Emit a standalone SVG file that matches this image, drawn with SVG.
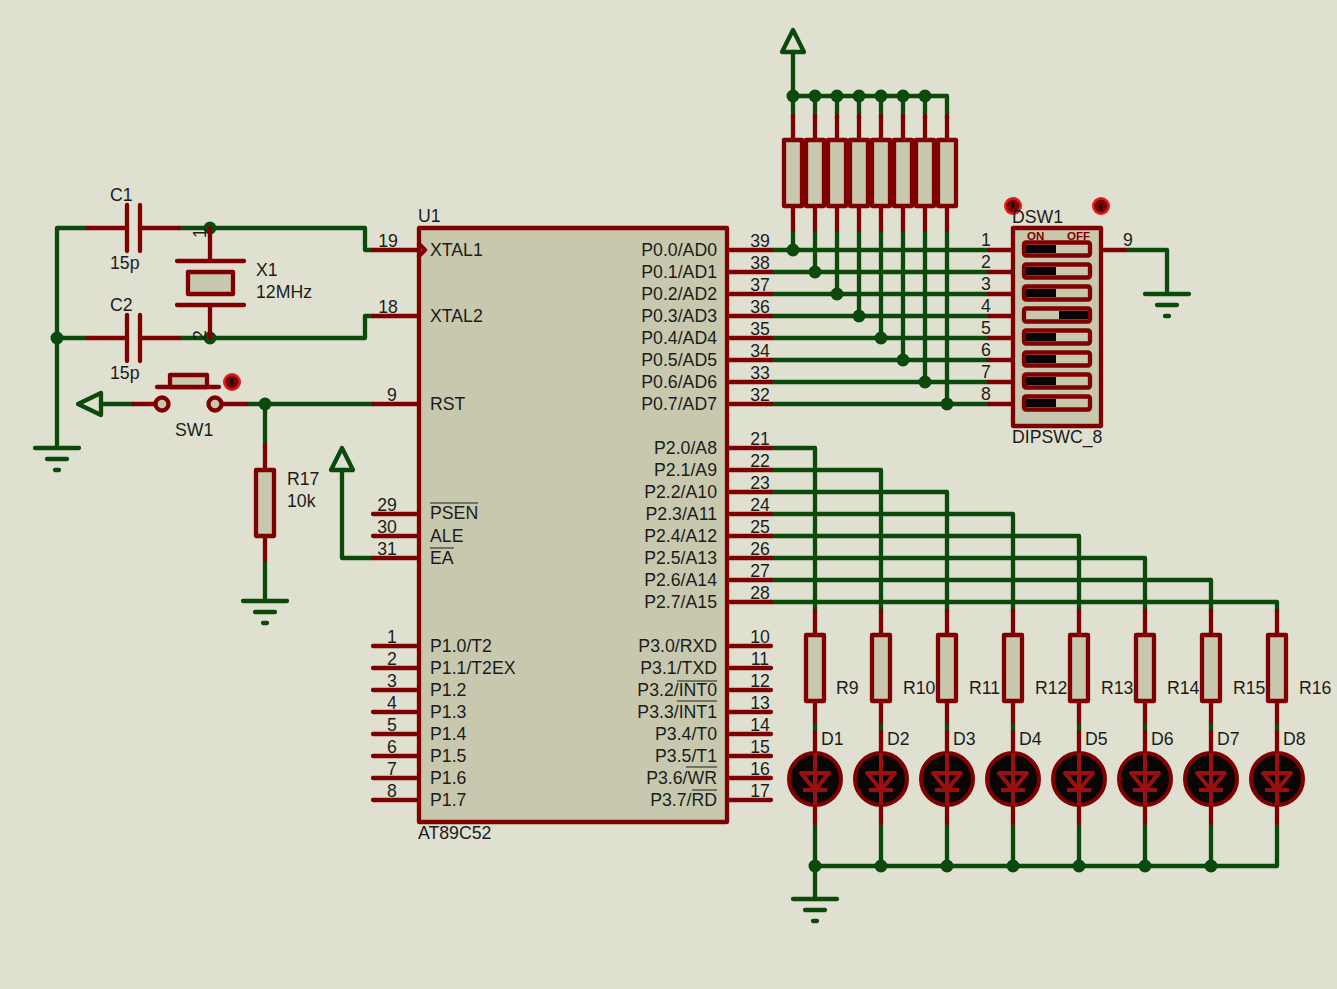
<svg xmlns="http://www.w3.org/2000/svg" xmlns:xlink="http://www.w3.org/1999/xlink" width="1337" height="989" viewBox="0 0 1337 989">
<style>
text{font-family:"Liberation Sans",Arial,sans-serif;font-size:17.7px;fill:#1c1c1c}
.e{text-anchor:end}.m{text-anchor:middle}
.w{stroke:#0b4a0b;stroke-width:4.300;fill:none;stroke-linejoin:round;stroke-linecap:round}
.r{stroke:#7f0000;stroke-width:4.300;fill:none;stroke-linecap:round;stroke-linejoin:round}
.b{stroke:#7f0000;stroke-width:4.300;fill:#c8c8ae;stroke-linejoin:round}
.j{fill:#0b4a0b}
.o{stroke:#1c1c1c;stroke-width:1.2;fill:none}
.t{stroke:#0b4a0b;stroke-width:4.300;fill:none;stroke-linejoin:round}
.g{stroke:#0b4a0b;stroke-width:4.300;stroke-linecap:round;fill:none}
.sw{stroke:#7f0000;stroke-width:4.300;fill:#c8c8ae}
.k{fill:#0a0505}
.lab{font-size:11.5px;font-weight:bold;fill:#7f0000}
</style>
<defs>
<g id="res"><path class="r" d="M0 -33V-57M0 33V57"/><rect class="b" x="-9" y="-33" width="18" height="66"/></g>
<g id="led">
<path class="w" d="M0 -54V-47"/>
<path class="r" d="M0 -47V-28M0 28V44"/>
<circle r="26" fill="#0a0505" stroke="#7f0000" stroke-width="4"/>
<path d="M0 -26V26M-12 11H12M-14 -6H14L0 11Z" fill="none" stroke="#9a1010" stroke-width="4" stroke-linejoin="round"/>
</g>
<g id="gnd"><path class="g" d="M-22 0H22M-10 11H10M-2 22H2"/></g>
<g id="swon"><rect class="sw" x="-33" y="-6.500" width="66" height="13" rx="2"/><rect class="k" x="-31" y="-4" width="30" height="8"/></g>
<g id="swoff"><rect class="sw" x="-33" y="-6.500" width="66" height="13" rx="2"/><rect class="k" x="2" y="-4" width="29" height="8"/></g>
</defs>
<rect width="1337" height="989" fill="#dfe0d0"/>

<g id="connectors">
<path class="w" d="M57 447V228H88M179 228H365V250H373M57 338H88M179 338H365V316H373"/>
<path class="w" d="M101 404H133M246 404H373M265 404V447M265 560V601"/>
<path class="w" d="M342 470V558H373"/>
<path class="w" d="M793 52V118M793 96H947V118M815 96V118M837 96V118M859 96V118M881 96V118M903 96V118M925 96V118"/>
<path class="w" d="M793 230V250M815 230V272M837 230V294M859 230V316M881 230V338M903 230V360M925 230V382M947 230V404"/>
<path class="w" d="M771 250H989M771 272H989M771 294H989M771 316H989M771 338H989M771 360H989M771 382H989M771 404H989"/>
<path class="w" d="M1125 250H1167V294"/>
<path class="w" d="M771 448H815V612M771 470H881V612M771 492H947V612M771 514H1013V612M771 536H1079V612M771 558H1145V612M771 580H1211V612M771 602H1277V612"/>
<path class="w" d="M815 823V899M881 823V866M947 823V866M1013 823V866M1079 823V866M1145 823V866M1211 823V866M1277 823V866H815"/>
<g class="j">
<circle cx="210" cy="228" r="6.500"/><circle cx="210" cy="338" r="6.500"/><circle cx="57" cy="338" r="6.500"/><circle cx="265" cy="404" r="6.500"/>
<circle cx="793" cy="96" r="6.500"/><circle cx="815" cy="96" r="6.500"/><circle cx="837" cy="96" r="6.500"/><circle cx="859" cy="96" r="6.500"/><circle cx="881" cy="96" r="6.500"/><circle cx="903" cy="96" r="6.500"/><circle cx="925" cy="96" r="6.500"/>
<circle cx="793" cy="250" r="6.500"/><circle cx="815" cy="272" r="6.500"/><circle cx="837" cy="294" r="6.500"/><circle cx="859" cy="316" r="6.500"/><circle cx="881" cy="338" r="6.500"/><circle cx="903" cy="360" r="6.500"/><circle cx="925" cy="382" r="6.500"/><circle cx="947" cy="404" r="6.500"/>
<circle cx="815" cy="866" r="6.500"/><circle cx="881" cy="866" r="6.500"/><circle cx="947" cy="866" r="6.500"/><circle cx="1013" cy="866" r="6.500"/><circle cx="1079" cy="866" r="6.500"/><circle cx="1145" cy="866" r="6.500"/><circle cx="1211" cy="866" r="6.500"/>
</g>
</g>

<g id="U1">
<rect class="b" x="419" y="228" width="308" height="594"/>
<path class="r" d="M373 250H419M419 244L425 250L419 256M373 316H419M373 404H419M373 514H419M373 536H419M373 558H419"/>
<path class="r" d="M373 646H419M373 668H419M373 690H419M373 712H419M373 734H419M373 756H419M373 778H419M373 800H419"/>
<path class="r" d="M727 250H771M727 272H771M727 294H771M727 316H771M727 338H771M727 360H771M727 382H771M727 404H771"/>
<path class="r" d="M727 448H771M727 470H771M727 492H771M727 514H771M727 536H771M727 558H771M727 580H771M727 602H771"/>
<path class="r" d="M727 646H771M727 668H771M727 690H771M727 712H771M727 734H771M727 756H771M727 778H771M727 800H771"/>
<text x="418" y="222">U1</text><text x="418" y="839">AT89C52</text>
<text x="430" y="256">XTAL1</text><text x="430" y="322">XTAL2</text><text x="430" y="410">RST</text>
<text x="430" y="519">PSEN</text><text x="430" y="542">ALE</text><text x="430" y="564">EA</text>
<text x="430" y="652">P1.0/T2</text><text x="430" y="674">P1.1/T2EX</text><text x="430" y="696">P1.2</text><text x="430" y="718">P1.3</text><text x="430" y="740">P1.4</text><text x="430" y="762">P1.5</text><text x="430" y="784">P1.6</text><text x="430" y="806">P1.7</text>
<text class="e" x="717" y="256">P0.0/AD0</text><text class="e" x="717" y="278">P0.1/AD1</text><text class="e" x="717" y="300">P0.2/AD2</text><text class="e" x="717" y="322">P0.3/AD3</text><text class="e" x="717" y="344">P0.4/AD4</text><text class="e" x="717" y="366">P0.5/AD5</text><text class="e" x="717" y="388">P0.6/AD6</text><text class="e" x="717" y="410">P0.7/AD7</text>
<text class="e" x="717" y="454">P2.0/A8</text><text class="e" x="717" y="476">P2.1/A9</text><text class="e" x="717" y="498">P2.2/A10</text><text class="e" x="717" y="520">P2.3/A11</text><text class="e" x="717" y="542">P2.4/A12</text><text class="e" x="717" y="564">P2.5/A13</text><text class="e" x="717" y="586">P2.6/A14</text><text class="e" x="717" y="608">P2.7/A15</text>
<text class="e" x="717" y="652">P3.0/RXD</text><text class="e" x="717" y="674">P3.1/TXD</text><text class="e" x="717" y="696">P3.2/INT0</text><text class="e" x="717" y="718">P3.3/INT1</text><text class="e" x="717" y="740">P3.4/T0</text><text class="e" x="717" y="762">P3.5/T1</text><text class="e" x="717" y="784">P3.6/WR</text><text class="e" x="717" y="806">P3.7/RD</text>
<path class="o" d="M430 503H478M430 548H454M677 681H717M677 701H717M686 767H717M692 790H717"/>
<g>
<text class="m" x="388" y="247">19</text><text class="m" x="388" y="313">18</text><text class="m" x="392" y="401">9</text><text class="m" x="387" y="511">29</text><text class="m" x="387" y="533">30</text><text class="m" x="387" y="555">31</text>
<text class="m" x="392" y="643">1</text><text class="m" x="392" y="665">2</text><text class="m" x="392" y="687">3</text><text class="m" x="392" y="709">4</text><text class="m" x="392" y="731">5</text><text class="m" x="392" y="753">6</text><text class="m" x="392" y="775">7</text><text class="m" x="392" y="797">8</text>
<text class="m" x="760" y="247">39</text><text class="m" x="760" y="269">38</text><text class="m" x="760" y="291">37</text><text class="m" x="760" y="313">36</text><text class="m" x="760" y="335">35</text><text class="m" x="760" y="357">34</text><text class="m" x="760" y="379">33</text><text class="m" x="760" y="401">32</text>
<text class="m" x="760" y="445">21</text><text class="m" x="760" y="467">22</text><text class="m" x="760" y="489">23</text><text class="m" x="760" y="511">24</text><text class="m" x="760" y="533">25</text><text class="m" x="760" y="555">26</text><text class="m" x="760" y="577">27</text><text class="m" x="760" y="599">28</text>
<text class="m" x="760" y="643">10</text><text class="m" x="760" y="665">11</text><text class="m" x="760" y="687">12</text><text class="m" x="760" y="709">13</text><text class="m" x="760" y="731">14</text><text class="m" x="760" y="753">15</text><text class="m" x="760" y="775">16</text><text class="m" x="760" y="797">17</text>
</g>
</g>

<g id="C1"><path class="r" d="M88 228H126M141 228H179"/><path class="r" d="M127 205V251M140 205V251"/><text x="110" y="201">C1</text><text x="110" y="269">15p</text></g>
<g id="C2"><path class="r" d="M88 338H126M141 338H179"/><path class="r" d="M127 315V361M140 315V361"/><text x="110" y="311">C2</text><text x="110" y="379">15p</text></g>
<g id="X1">
<path class="r" d="M210 228V261M177 261H244M177 305H244M210 305V338"/>
<rect class="b" x="188" y="272" width="45" height="22"/>
<text transform="translate(206 238) rotate(-90)">1</text>
<text transform="translate(206 340) rotate(-90)">2</text>
<text x="256" y="276">X1</text><text x="256" y="298">12MHz</text>
</g>
<g id="SW1">
<path class="r" d="M133 404H155M221 404H246M157 387H219"/>
<rect class="b" x="170" y="375" width="37" height="12"/>
<circle class="b" cx="162" cy="404" r="6.500"/><circle class="b" cx="215" cy="404" r="6.500"/>
<circle cx="232" cy="382" r="9" fill="#e21a1a"/><circle cx="232" cy="382" r="6.500" fill="#7f0000"/><path d="M232 378V386" stroke="#111" stroke-width="3"/>
<text x="175" y="436">SW1</text>
</g>
<g id="R17"><use xlink:href="#res" href="#res" x="265" y="503"/><text x="287" y="485">R17</text><text x="287" y="507">10k</text></g>
<g id="GND1"><use xlink:href="#gnd" href="#gnd" x="57" y="448"/></g>
<g id="GND2"><use xlink:href="#gnd" href="#gnd" x="265" y="601"/></g>
<g id="GND3"><use xlink:href="#gnd" href="#gnd" x="1167" y="294"/></g>
<g id="GND4"><use xlink:href="#gnd" href="#gnd" x="815" y="899"/></g>
<g id="PWR1"><path class="t" d="M78 404L101 393V415Z"/></g>
<g id="PWR2"><path class="t" d="M342 448L353 470H331Z"/></g>
<g id="PWR3"><path class="t" d="M793 30L804 52H782Z"/></g>

<g id="RP1">
<use xlink:href="#res" href="#res" x="793" y="173"/><use xlink:href="#res" href="#res" x="815" y="173"/><use xlink:href="#res" href="#res" x="837" y="173"/><use xlink:href="#res" href="#res" x="859" y="173"/><use xlink:href="#res" href="#res" x="881" y="173"/><use xlink:href="#res" href="#res" x="903" y="173"/><use xlink:href="#res" href="#res" x="925" y="173"/><use xlink:href="#res" href="#res" x="947" y="173"/>
</g>

<g id="DSW1">
<path class="r" d="M989 250H1013M989 272H1013M989 294H1013M989 316H1013M989 338H1013M989 360H1013M989 382H1013M989 404H1013M1101 250H1125"/>
<rect class="b" x="1013" y="228" width="88" height="198"/>
<text class="lab" x="1027" y="240">ON</text><text class="lab" x="1067" y="240">OFF</text>
<use xlink:href="#swon" href="#swon" x="1057" y="249"/><use xlink:href="#swon" href="#swon" x="1057" y="271"/><use xlink:href="#swon" href="#swon" x="1057" y="293"/><use xlink:href="#swoff" href="#swoff" x="1057" y="315"/><use xlink:href="#swon" href="#swon" x="1057" y="337"/><use xlink:href="#swon" href="#swon" x="1057" y="359"/><use xlink:href="#swon" href="#swon" x="1057" y="381"/><use xlink:href="#swon" href="#swon" x="1057" y="403"/>
<circle cx="1013" cy="206" r="9" fill="#e21a1a"/><circle cx="1013" cy="206" r="6.500" fill="#7f0000"/><path d="M1013 201V208" stroke="#111" stroke-width="2.500"/>
<circle cx="1101" cy="206" r="9" fill="#e21a1a"/><circle cx="1101" cy="206" r="6.500" fill="#7f0000"/><path d="M1101 203V211" stroke="#111" stroke-width="2.500"/>
<text x="1012" y="223">DSW1</text><text x="1012" y="443">DIPSWC_8</text>
<text class="m" x="986" y="246">1</text><text class="m" x="986" y="268">2</text><text class="m" x="986" y="290">3</text><text class="m" x="986" y="312">4</text><text class="m" x="986" y="334">5</text><text class="m" x="986" y="356">6</text><text class="m" x="986" y="378">7</text><text class="m" x="986" y="400">8</text>
<text class="m" x="1128" y="246">9</text>
</g>

<g id="R9"><use xlink:href="#res" href="#res" x="815" y="668"/><text x="836" y="694">R9</text></g>
<g id="R10"><use xlink:href="#res" href="#res" x="881" y="668"/><text x="903" y="694">R10</text></g>
<g id="R11"><use xlink:href="#res" href="#res" x="947" y="668"/><text x="969" y="694">R11</text></g>
<g id="R12"><use xlink:href="#res" href="#res" x="1013" y="668"/><text x="1035" y="694">R12</text></g>
<g id="R13"><use xlink:href="#res" href="#res" x="1079" y="668"/><text x="1101" y="694">R13</text></g>
<g id="R14"><use xlink:href="#res" href="#res" x="1145" y="668"/><text x="1167" y="694">R14</text></g>
<g id="R15"><use xlink:href="#res" href="#res" x="1211" y="668"/><text x="1233" y="694">R15</text></g>
<g id="R16"><use xlink:href="#res" href="#res" x="1277" y="668"/><text x="1299" y="694">R16</text></g>

<g id="D1"><use xlink:href="#led" href="#led" x="815" y="779"/><text x="821" y="745">D1</text></g>
<g id="D2"><use xlink:href="#led" href="#led" x="881" y="779"/><text x="887" y="745">D2</text></g>
<g id="D3"><use xlink:href="#led" href="#led" x="947" y="779"/><text x="953" y="745">D3</text></g>
<g id="D4"><use xlink:href="#led" href="#led" x="1013" y="779"/><text x="1019" y="745">D4</text></g>
<g id="D5"><use xlink:href="#led" href="#led" x="1079" y="779"/><text x="1085" y="745">D5</text></g>
<g id="D6"><use xlink:href="#led" href="#led" x="1145" y="779"/><text x="1151" y="745">D6</text></g>
<g id="D7"><use xlink:href="#led" href="#led" x="1211" y="779"/><text x="1217" y="745">D7</text></g>
<g id="D8"><use xlink:href="#led" href="#led" x="1277" y="779"/><text x="1283" y="745">D8</text></g>
</svg>
